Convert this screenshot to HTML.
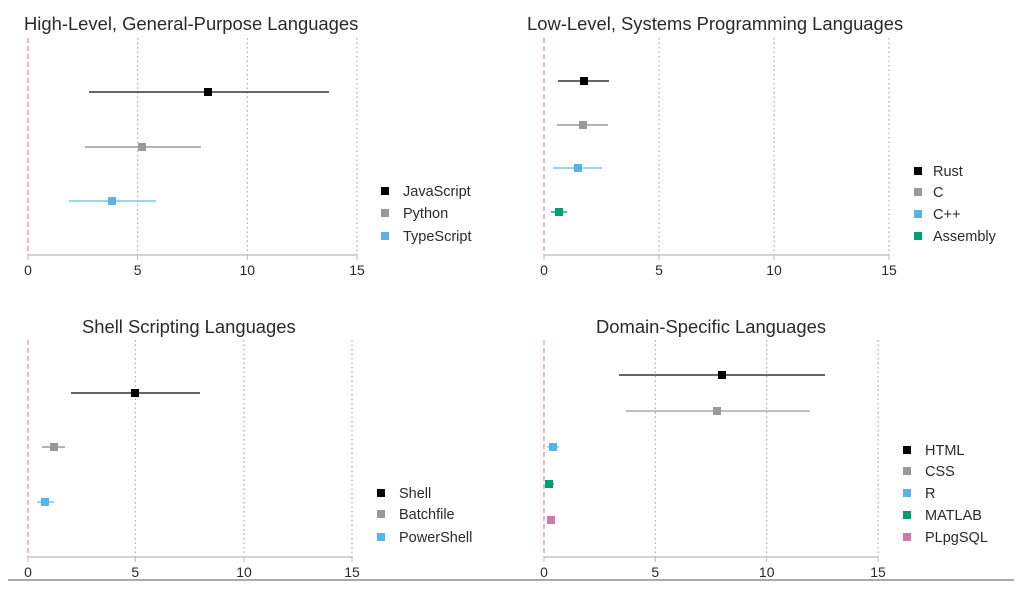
<!DOCTYPE html>
<html><head><meta charset="utf-8"><style>
html,body{margin:0;padding:0;background:#fff;}
svg text{font-family:"Liberation Sans",sans-serif;fill:#2a2a2a;}
</style></head><body>
<svg width="1024" height="587" viewBox="0 0 1024 587" xmlns="http://www.w3.org/2000/svg">
<!-- Panel TL -->
<g>
<text x="24" y="30" font-size="18.4">High-Level, General-Purpose Languages</text>
<g stroke="#999" stroke-width="1" stroke-dasharray="1.5,3">
<line x1="137.7" y1="38" x2="137.7" y2="255"/><line x1="247.3" y1="38" x2="247.3" y2="255"/><line x1="357" y1="38" x2="357" y2="255"/></g>
<line x1="28" y1="38" x2="28" y2="255" stroke="#d98cb0" stroke-width="1.2" stroke-dasharray="5,3"/>
<line x1="28" y1="255" x2="357" y2="255" stroke="#bbb" stroke-width="1.2"/>
<g stroke="#bbb"><line x1="28" y1="255" x2="28" y2="260"/><line x1="137.7" y1="255" x2="137.7" y2="260"/><line x1="247.3" y1="255" x2="247.3" y2="260"/><line x1="357" y1="255" x2="357" y2="260"/></g>
<g font-size="14" text-anchor="middle"><text x="28" y="275">0</text><text x="137.7" y="275">5</text><text x="247.3" y="275">10</text><text x="357" y="275">15</text></g>
<line x1="89" y1="92" x2="329" y2="92" stroke="#333" stroke-width="1.4"/><rect x="204" y="88" width="8" height="8" fill="#000"/>
<line x1="85" y1="147" x2="201" y2="147" stroke="#999" stroke-width="1.4"/><rect x="138" y="143" width="8" height="8" fill="#999"/>
<line x1="69" y1="201" x2="156" y2="201" stroke="#7cc6ee" stroke-width="1.4"/><rect x="108" y="197" width="8" height="8" fill="#56b4e9"/>
<rect x="381" y="187" width="8" height="8" fill="#000"/><text x="403" y="196" font-size="14.5">JavaScript</text>
<rect x="381" y="209" width="8" height="8" fill="#999"/><text x="403" y="218" font-size="14.5">Python</text>
<rect x="381" y="232" width="8" height="8" fill="#56b4e9"/><text x="403" y="241" font-size="14.5">TypeScript</text>
</g>
<!-- Panel TR -->
<g>
<text x="527" y="30" font-size="18.4">Low-Level, Systems Programming Languages</text>
<g stroke="#999" stroke-width="1" stroke-dasharray="1.5,3">
<line x1="659" y1="38" x2="659" y2="255"/><line x1="774" y1="38" x2="774" y2="255"/><line x1="889" y1="38" x2="889" y2="255"/></g>
<line x1="544" y1="38" x2="544" y2="255" stroke="#d98cb0" stroke-width="1.2" stroke-dasharray="5,3"/>
<line x1="544" y1="255" x2="889" y2="255" stroke="#bbb" stroke-width="1.2"/>
<g stroke="#bbb"><line x1="544" y1="255" x2="544" y2="260"/><line x1="659" y1="255" x2="659" y2="260"/><line x1="774" y1="255" x2="774" y2="260"/><line x1="889" y1="255" x2="889" y2="260"/></g>
<g font-size="14" text-anchor="middle"><text x="544" y="275">0</text><text x="659" y="275">5</text><text x="774" y="275">10</text><text x="889" y="275">15</text></g>
<line x1="558" y1="81" x2="609" y2="81" stroke="#333" stroke-width="1.4"/><rect x="580" y="77" width="8" height="8" fill="#000"/>
<line x1="557" y1="125" x2="608" y2="125" stroke="#999" stroke-width="1.4"/><rect x="579" y="121" width="8" height="8" fill="#999"/>
<line x1="553" y1="168" x2="602" y2="168" stroke="#7cc6ee" stroke-width="1.4"/><rect x="574" y="164" width="8" height="8" fill="#56b4e9"/>
<line x1="551" y1="212" x2="567" y2="212" stroke="#009e73" stroke-width="1.4"/><rect x="555" y="208" width="8" height="8" fill="#009e73"/>
<rect x="914" y="167" width="8" height="8" fill="#000"/><text x="933" y="176" font-size="14.5">Rust</text>
<rect x="914" y="188" width="8" height="8" fill="#999"/><text x="933" y="197" font-size="14.5">C</text>
<rect x="914" y="210" width="8" height="8" fill="#56b4e9"/><text x="933" y="219" font-size="14.5">C++</text>
<rect x="914" y="232" width="8" height="8" fill="#009e73"/><text x="933" y="241" font-size="14.5">Assembly</text>
</g>
<!-- Panel BL -->
<g>
<text x="82" y="333" font-size="18.4">Shell Scripting Languages</text>
<g stroke="#999" stroke-width="1" stroke-dasharray="1.5,3">
<line x1="135.3" y1="340" x2="135.3" y2="557"/><line x1="244" y1="340" x2="244" y2="557"/><line x1="352" y1="340" x2="352" y2="557"/></g>
<line x1="28" y1="340" x2="28" y2="557" stroke="#d98cb0" stroke-width="1.2" stroke-dasharray="5,3"/>
<line x1="28" y1="557" x2="352" y2="557" stroke="#bbb" stroke-width="1.2"/>
<g stroke="#bbb"><line x1="28" y1="557" x2="28" y2="562"/><line x1="135.3" y1="557" x2="135.3" y2="562"/><line x1="244" y1="557" x2="244" y2="562"/><line x1="352" y1="557" x2="352" y2="562"/></g>
<g font-size="14" text-anchor="middle"><text x="28" y="577">0</text><text x="135.3" y="577">5</text><text x="244" y="577">10</text><text x="352" y="577">15</text></g>
<line x1="71" y1="393" x2="200" y2="393" stroke="#333" stroke-width="1.4"/><rect x="131" y="389" width="8" height="8" fill="#000"/>
<line x1="42" y1="447" x2="65" y2="447" stroke="#999" stroke-width="1.4"/><rect x="50" y="443" width="8" height="8" fill="#999"/>
<line x1="37" y1="502" x2="54" y2="502" stroke="#7cc6ee" stroke-width="1.4"/><rect x="41" y="498" width="8" height="8" fill="#56b4e9"/>
<rect x="377" y="489" width="8" height="8" fill="#000"/><text x="399" y="498" font-size="14.5">Shell</text>
<rect x="377" y="510" width="8" height="8" fill="#999"/><text x="399" y="519" font-size="14.5">Batchfile</text>
<rect x="377" y="533" width="8" height="8" fill="#56b4e9"/><text x="399" y="542" font-size="14.5">PowerShell</text>
</g>
<!-- Panel BR -->
<g>
<text x="596" y="333" font-size="18.4">Domain-Specific Languages</text>
<g stroke="#999" stroke-width="1" stroke-dasharray="1.5,3">
<line x1="655.3" y1="340" x2="655.3" y2="557"/><line x1="766.7" y1="340" x2="766.7" y2="557"/><line x1="878" y1="340" x2="878" y2="557"/></g>
<line x1="544" y1="340" x2="544" y2="557" stroke="#d98cb0" stroke-width="1.2" stroke-dasharray="5,3"/>
<line x1="544" y1="557" x2="878" y2="557" stroke="#bbb" stroke-width="1.2"/>
<g stroke="#bbb"><line x1="544" y1="557" x2="544" y2="562"/><line x1="655.3" y1="557" x2="655.3" y2="562"/><line x1="766.7" y1="557" x2="766.7" y2="562"/><line x1="878" y1="557" x2="878" y2="562"/></g>
<g font-size="14" text-anchor="middle"><text x="544" y="577">0</text><text x="655.3" y="577">5</text><text x="766.7" y="577">10</text><text x="878" y="577">15</text></g>
<line x1="619" y1="375" x2="825" y2="375" stroke="#333" stroke-width="1.4"/><rect x="718" y="371" width="8" height="8" fill="#000"/>
<line x1="626" y1="411" x2="810" y2="411" stroke="#aaa" stroke-width="1.4"/><rect x="713" y="407" width="8" height="8" fill="#999"/>
<line x1="547" y1="447" x2="559" y2="447" stroke="#7cc6ee" stroke-width="1.4"/><rect x="549" y="443" width="8" height="8" fill="#56b4e9"/>
<line x1="545" y1="484" x2="554" y2="484" stroke="#009e73" stroke-width="1.4"/><rect x="545" y="480" width="8" height="8" fill="#009e73"/>
<rect x="547" y="516" width="8" height="8" fill="#cc79a7"/>
<rect x="903" y="446" width="8" height="8" fill="#000"/><text x="925" y="455" font-size="14.5">HTML</text>
<rect x="903" y="467" width="8" height="8" fill="#999"/><text x="925" y="476" font-size="14.5">CSS</text>
<rect x="903" y="489" width="8" height="8" fill="#56b4e9"/><text x="925" y="498" font-size="14.5">R</text>
<rect x="903" y="511" width="8" height="8" fill="#009e73"/><text x="925" y="520" font-size="14.5">MATLAB</text>
<rect x="903" y="533" width="8" height="8" fill="#cc79a7"/><text x="925" y="542" font-size="14.5">PLpgSQL</text>
</g>
<line x1="8" y1="580" x2="1014" y2="580" stroke="#aaa" stroke-width="2"/>
</svg>
</body></html>
